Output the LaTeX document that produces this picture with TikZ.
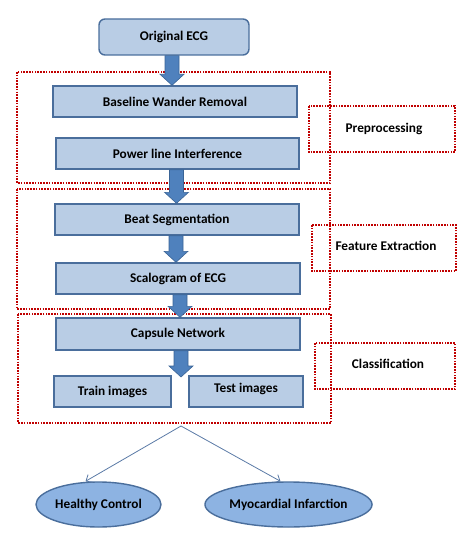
\documentclass[tikz,border=0pt]{standalone}
\usepackage{fontspec}
\setmainfont{Carlito}
\usetikzlibrary{calc,arrows.meta,shapes.geometric}
\definecolor{boxfill}{HTML}{B9CDE5}
\definecolor{boxline}{HTML}{4A6E9C}
\definecolor{arrfill}{HTML}{4F81BD}
\definecolor{arrline}{HTML}{3A6496}
\definecolor{ellfill}{HTML}{8DB3E2}
\definecolor{dotred}{HTML}{C00000}
\definecolor{linecol}{HTML}{5A7AA6}
\newcommand\blockarrow[3]{%
  \draw[blockarr] let \p1=(#1), \p2=(#2) in
    ($(\x1,\y1)+(#3-7,0)$) -- ($(\x1,\y2)+(#3-7,-11)$) -- ($(\x1,\y2)+(#3-12,-11)$) --
    ($(\x1,\y2)+(#3,0)$) -- ($(\x1,\y2)+(#3+12,-11)$) -- ($(\x1,\y2)+(#3+7,-11)$) --
    ($(\x1,\y1)+(#3+7,0)$) -- cycle;}
\begin{document}
\begin{tikzpicture}[x=1pt,y=-1pt,
  txt/.style={font=\bfseries\fontsize{13.3}{15}\selectfont},
  stepbox/.style={txt,draw=boxline,fill=boxfill,line width=1.4pt,minimum height=31pt,inner sep=0pt},
  endell/.style={txt,ellipse,draw=boxline,fill=ellfill,line width=1.4pt,minimum width=125pt,minimum height=45pt,inner sep=0pt},
  dotbox/.style={draw=dotred,line width=1.8pt,dash pattern=on 1.6pt off 1.2pt},
  labtext/.style={txt},
  blockarr/.style={fill=arrfill,draw=arrline,line width=0.6pt},
  thinarr/.style={draw=linecol,line width=0.8pt,-{Straight Barb[length=5pt,width=9pt]}}]
\useasboundingbox (0,0) rectangle (474,548);
% dotted group boxes
\draw[dotbox] (17,72) rectangle (330,183);
\draw[dotbox] (17,189) rectangle (330,309);
\draw[dotbox] (18,314) rectangle (331,423);
\draw[dotbox] (309,106) rectangle (455,152);
\draw[dotbox] (312,225) rectangle (456,271);
\draw[dotbox] (315,343) rectangle (455,389);
\node[labtext] (prelab) at (384,129) {Preprocessing};
\node[labtext] (felab) at (386,246) {Feature Extraction};
\node[labtext] (cllab) at (388,364) {Classification};
% boxes
\node[stepbox,rounded corners=6pt,minimum width=150pt,minimum height=36pt] (orig) at (174,37) {Original ECG};
\node[stepbox,minimum width=244pt] (bwr) at (175,101.5) {Baseline Wander Removal};
\node[stepbox,minimum width=243pt] (pli) at (177.5,153.5) {Power line Interference};
\node[stepbox,minimum width=244pt] (beat) at (177,219.5) {Beat Segmentation};
\node[stepbox,minimum width=244pt] (scal) at (178,278.5) {Scalogram of ECG};
\node[stepbox,minimum width=244pt,minimum height=32pt] (caps) at (178,334) {Capsule Network};
\node[stepbox,minimum width=117pt] (train) at (112.5,391.5) {Train images};
\node[stepbox,minimum width=114pt,text depth=7pt] (test) at (246,391.5) {Test images};
\node[endell] (hc) at (98.5,504.5) {Healthy Control};
\node[endell] (mi) at (288.5,504.5) {Myocardial Infarction};
\coordinate (gap) at (181,377);
\coordinate (split) at (181,426);
% block arrows
\blockarrow{orig.south}{bwr.north}{-2}
\blockarrow{pli.south}{beat.north}{-1}
\blockarrow{beat.south}{scal.north}{-1}
\blockarrow{scal.south}{caps.north}{2}
\blockarrow{caps.south}{gap}{3}
% thin arrows
\draw[thinarr] (split) -- ($(hc.north)+(-13,0)$);
\draw[thinarr] (split) -- ($(mi.north)+(-8,0)$);
\end{tikzpicture}
\end{document}
